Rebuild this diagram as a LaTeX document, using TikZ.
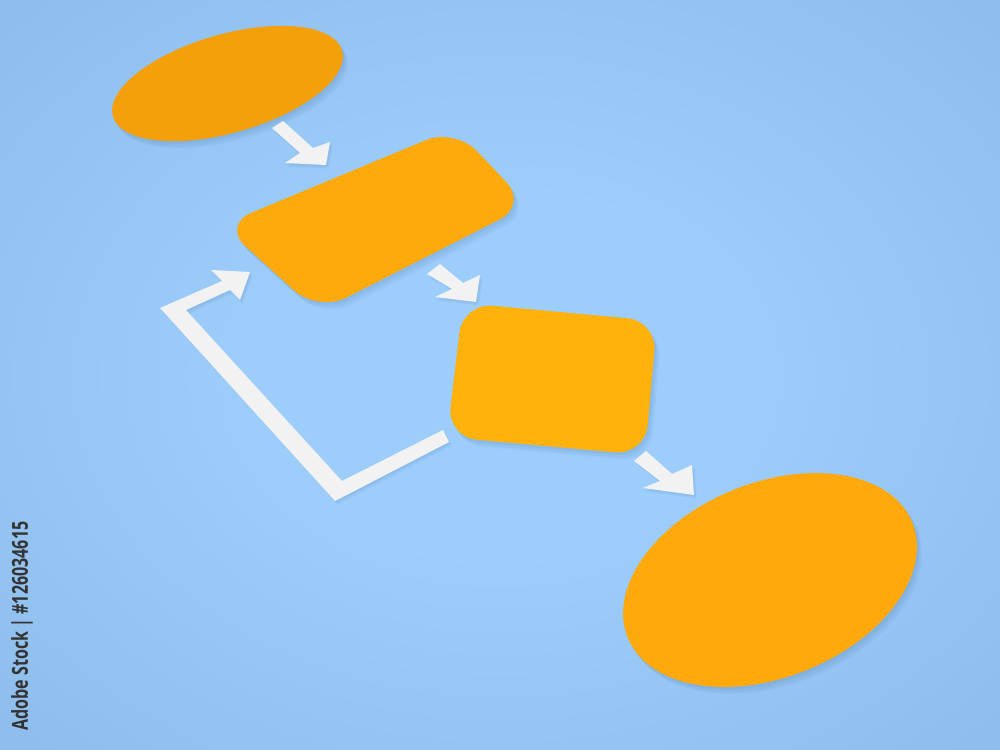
\documentclass[tikz,border=0pt]{standalone}
\usepackage{fontspec}
\setmainfont{Open Sans}
\usetikzlibrary{shapes.geometric,shadows}
\definecolor{bgin}{HTML}{9DCDFB}
\definecolor{bgout}{HTML}{76A4D4}
\definecolor{orA}{HTML}{F4A00A}
\definecolor{orB}{HTML}{FFAA0C}
\definecolor{orC}{HTML}{FFB20C}
\definecolor{orD}{HTML}{FFA90C}
\definecolor{arrw}{HTML}{F2F2F2}
\definecolor{shd}{HTML}{3C6A9A}
\definecolor{idtxt}{HTML}{333333}
\pgfdeclareradialshading{bgshade}{\pgfpoint{0bp}{0bp}}{color(0bp)=(bgin); color(12bp)=(bgin); color(72bp)=(bgout)}
\tikzset{
  softshadow/.style={
    drop shadow={shadow xshift=3pt, shadow yshift=-4pt, opacity=0.06, fill=shd},
    drop shadow={shadow xshift=2pt, shadow yshift=-3pt, opacity=0.07, fill=shd},
    drop shadow={shadow xshift=1pt, shadow yshift=-1.5pt, opacity=0.08, fill=shd}},
  blockA/.style={fill=orA, draw=none, softshadow},
  blockB/.style={fill=orB, draw=none, softshadow},
  blockC/.style={fill=orC, draw=none, softshadow},
  blockD/.style={fill=orD, draw=none, softshadow},
  flatarrow/.style={fill=arrw, draw=none,
    drop shadow={shadow xshift=1.5pt, shadow yshift=-2pt, opacity=0.08, fill=shd},
    drop shadow={shadow xshift=0.8pt, shadow yshift=-1pt, opacity=0.08, fill=shd}},
  oval/.style={ellipse, inner sep=0pt, outer sep=0pt}
}
\begin{document}
\begin{tikzpicture}[x=0.02cm,y=-0.02cm]
\useasboundingbox (0,0) rectangle (1000,750);
\shade[shading=bgshade] (0,0) rectangle (1000,750);

% start ellipse
\node[oval, blockA, minimum width=4.77cm, minimum height=1.97cm, rotate=16] (start) at (227.5,83.5) {};

% process block (rounded parallelogram)
\coordinate (pL) at (222,225);
\coordinate (pT) at (455,128);
\coordinate (pR) at (528,205);
\coordinate (pB) at (318,312);
\fill[blockB, rounded corners=18pt] (pL) -- (pT) -- (pR) -- (pB) -- cycle;

% decision block
\coordinate (dTL) at (463,303);
\coordinate (dTR) at (657,321);
\coordinate (dBR) at (645,455);
\coordinate (dBL) at (447,437);
\fill[blockC, rounded corners=17pt] (dTL) -- (dTR) -- (dBR) -- (dBL) -- cycle;

% end ellipse
\node[oval, blockD, minimum width=6.14cm, minimum height=3.89cm, rotate=22] (end) at (770,580) {};

% arrow start -> process
\fill[flatarrow] (272,128) -- (300,153) -- (285,163) -- (326,165) -- (330,142) -- (313,148) -- (283,121) -- cycle;
% arrow process -> decision
\fill[flatarrow] (427,274) -- (452,289) -- (435,297) -- (476,302) -- (480,275) -- (463,283) -- (440,264) -- cycle;
% arrow decision -> end
\fill[flatarrow] (634,461) -- (660,481) -- (643,488) -- (694,495) -- (692,465) -- (672,474) -- (646,451) -- cycle;
% loop arrow decision -> process
\fill[flatarrow] (443,430) -- (342,481) -- (186,310) -- (230,290) -- (240,300) -- (250,272) -- (211,270) -- (222,281) -- (160,308) -- (335,501) -- (449,442) -- cycle;

% vertical id text
\node[rotate=90, text=idtxt, inner sep=0pt] (stockid) at (22,626) {\scalebox{0.73}[1]{\fontsize{12.5pt}{14pt}\selectfont\bfseries Adobe Stock | \#126034615}};
\end{tikzpicture}
\end{document}
